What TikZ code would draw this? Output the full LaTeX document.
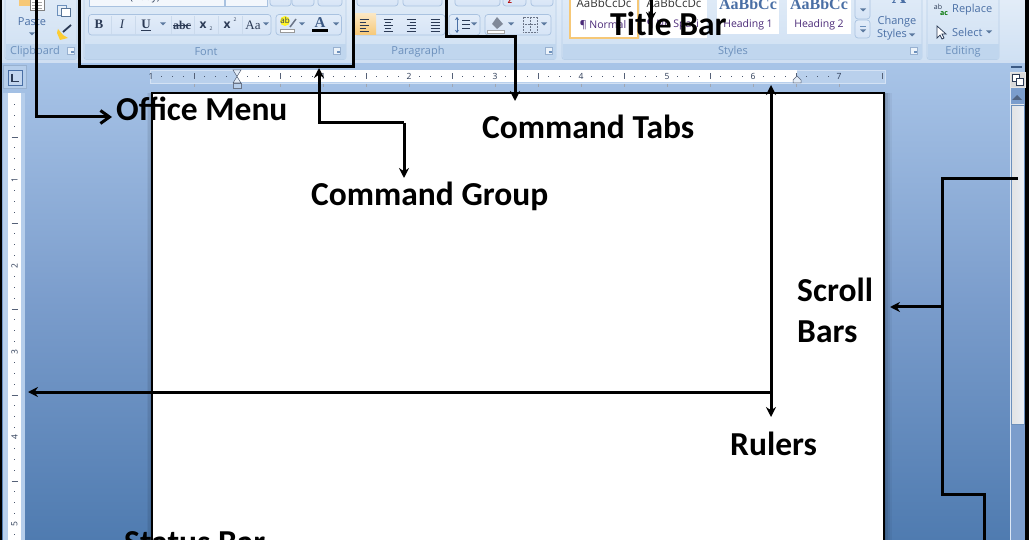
\documentclass[tikz,border=0pt]{standalone}
\usepackage{fontspec}
\setmainfont{Carlito}
\newfontfamily\uifont{Open Sans}
\newfontfamily\serifui{Liberation Serif}
\usetikzlibrary{arrows.meta}
\definecolor{capt}{HTML}{6C90BC}
\definecolor{grp}{HTML}{CFE0F3}
\definecolor{grpedge}{HTML}{B8CFE8}
\definecolor{capband}{HTML}{C0D6EE}
\definecolor{btn}{HTML}{D6E4F6}
\definecolor{btnedge}{HTML}{A9C2E0}
\definecolor{ico}{HTML}{2B3A55}
\definecolor{purp}{HTML}{4B2A78}
\definecolor{hd}{HTML}{4A6FA5}
\definecolor{bgtop}{HTML}{A9C5E8}
\definecolor{bgmid}{HTML}{7B9DCC}
\definecolor{bgbot}{HTML}{4F7BB0}
\definecolor{rulblue}{HTML}{B9D0EC}
\definecolor{selo}{HTML}{F6C877}
\tikzset{
 lbl/.style={font=\fontsize{33.5}{41}\selectfont\bfseries,anchor=base west,inner sep=0pt,text=black,align=left},
 conn/.style={line width=3pt,draw=black,line cap=butt,line join=miter},
 tip/.style={-{Stealth[length=10pt,width=10pt]}},
 caption/.style={font=\uifont\fontsize{11}{12}\selectfont,text=capt,inner sep=0pt},
 dark/.style={font=\uifont\fontsize{10}{12}\selectfont,text=ico,inner sep=0pt},
 rulernum/.style={font=\uifont\fontsize{8.5}{9}\selectfont,text=ico,inner sep=0pt},
 groupbox/.style={draw=grpedge,line width=0.8pt,rounded corners=2.5pt,top color=grp!65!white,bottom color=grp},
 btngroup/.style={draw=btnedge,line width=0.7pt,rounded corners=3pt,top color=btn!70!white,bottom color=btn},
 launch/.style={draw=capt!70,fill=white!70!capband,line width=0.5pt},
 tri/.style={fill=capt!85!black},
}
\newcommand{\drawtri}[2]{\fill[tri] (#1-3,#2-1.5) -- (#1+3,#2-1.5) -- (#1,#2+1.5) -- cycle;}
\newcommand{\launcher}[2]{\draw[launch] (#1-3.5,#2-3.5) rectangle (#1+3.5,#2+3.5);\fill[capt] (#1,#2) rectangle (#1+2.5,#2+2.5);}
\begin{document}
\begin{tikzpicture}[x=1pt,y=-1pt]
\useasboundingbox (0,0) rectangle (1029,540);
\clip (0,0) rectangle (1029,540);
% background
\fill[top color=bgtop,bottom color=bgmid] (0,60) rectangle (1029,300);
\fill[top color=bgmid,bottom color=bgbot] (0,300) rectangle (1029,540);
% ribbon
\fill[top color=grp!60!white,bottom color=grp] (0,0) rectangle (1029,62);
\fill[white!45!bgtop] (0,60) rectangle (1029,63);
\fill[black] (0,0) rectangle (2,540);
\fill[black] (1025,0) rectangle (1029,540);
% groups
\draw[groupbox] (5,-6) rectangle (77,59.5);
\draw[groupbox] (84,-6) rectangle (346,59.5);
\draw[groupbox] (353,-6) rectangle (556,59.5);
\draw[groupbox] (562,-6) rectangle (922,59.5);
\draw[groupbox] (927,-6) rectangle (999,59.5);
\foreach \a/\b in {5.5/76.5,84.5/345.5,353.5/555.5,562.5/921.5,927.5/998.5}
  \fill[capband] (\a,44) rectangle (\b,59);
% clipboard
\fill[selo] (19,-2) rectangle (30,6);
\fill[white] (30,-2) rectangle (44,10); \draw[gray,line width=0.5pt] (30,-2) rectangle (44,10);
\foreach \y in {2,5,8}\draw[gray!70,line width=0.6pt] (32,\y) -- (42,\y);
\node[caption,text=hd] (pasteT) at (32,22) {Paste};
\drawtri{32}{34}
\fill[white!60!capband] (57,5) rectangle (66,15); \draw[capt,line width=0.5pt] (57,5) rectangle (66,15);
\fill[white] (61,8) rectangle (70,16); \draw[capt!80!black,line width=0.5pt] (61,8) rectangle (70,16);
\fill[yellow!55!orange!80!white] (58,29) -- (63,35) -- (68,38) -- (60,40) -- (57,33) -- cycle;
\draw[ico,line width=1.8pt] (63,32) -- (71,25);
\node[caption] (clipT) at (35,52) {Clipboard};
\launcher{71}{51}
% font group
\fill[white!70!btn] (89,-6) rectangle (224,6); \draw[btnedge,line width=0.6pt] (89,-6) rectangle (224,6);
\fill[white!70!btn] (225,-6) rectangle (267,6); \draw[btnedge,line width=0.6pt] (225,-6) rectangle (267,6);
\node[dark,font=\uifont\fontsize{10}{12}\selectfont] (fontNameT) at (145,-2) {(Body)};
\draw[btngroup] (270,-6) rectangle (291,6); \draw[btngroup] (292,-6) rectangle (314,6); \draw[btngroup] (318,-6) rectangle (342,6);
\draw[btngroup] (88.5,14.5) rectangle (271,35);
\draw[btngroup] (276,14.5) rectangle (341.5,35);
\foreach \x in {111,135,171,194,218,242}\draw[btnedge!60,line width=0.4pt] (\x,16) -- (\x,34);
\node[inner sep=0pt,text=ico,font=\serifui\fontsize{13}{13}\selectfont\bfseries] (boldB) at (99,24.5) {B};
\node[inner sep=0pt,text=ico,font=\serifui\fontsize{13}{13}\selectfont\itshape] (italI) at (122,24.5) {I};
\node[inner sep=0pt,text=ico,font=\serifui\fontsize{13}{13}\selectfont\bfseries] (underU) at (146,24) {U};
\draw[ico,line width=1pt] (141,31) -- (151,31);
\drawtri{163}{24}
\node[inner sep=0pt,text=ico,font=\serifui\fontsize{12}{12}\selectfont\bfseries] (strikeT) at (182,25) {abc};
\draw[ico,line width=0.8pt] (173,25.5) -- (191,25.5);
\node[inner sep=0pt,text=ico,font=\uifont\fontsize{12}{12}\selectfont\bfseries] (subX) at (203,25) {x};
\node[inner sep=0pt,text=ico,font=\uifont\fontsize{5}{5}\selectfont] (subTwo) at (211,29) {2};
\node[inner sep=0pt,text=ico,font=\uifont\fontsize{12}{12}\selectfont\bfseries] (supX) at (227,25) {x};
\node[inner sep=0pt,text=ico,font=\uifont\fontsize{5}{5}\selectfont] (supTwo) at (235,20) {2};
\node[inner sep=0pt,text=ico,font=\serifui\fontsize{13}{13}\selectfont] (caseA) at (253,25) {Aa};
\drawtri{266}{24}
\fill[yellow!85!white] (285,21) circle (5);
\node[inner sep=0pt,text=ico,font=\uifont\fontsize{8}{8}\selectfont] (highlightT) at (285,21) {ab};
\draw[gray!80,fill=white,line width=0.5pt] (280,29) rectangle (294,32);
\draw[ico!70,line width=1.5pt] (290,27) -- (296,19);
\drawtri{302}{24}
\node[inner sep=0pt,text=hd!80!black,font=\serifui\fontsize{15}{15}\selectfont\bfseries] (colorA) at (320,22.5) {A};
\fill[black] (312,29) rectangle (328,32.5);
\drawtri{336}{24}
\node[caption] (fontT) at (206,52) {Font};
\launcher{337}{51}
% paragraph group
\foreach \a/\b in {357/398,403/442,455/500,503/526,531/553}
  \draw[btngroup] (\a,-6) rectangle (\b,6);
\node[inner sep=0pt,text=red!70!black,font=\uifont\fontsize{7}{7}\selectfont\bfseries] (sortZ) at (510,1) {Z};
\draw[btngroup] (354,14.5) rectangle (445,35);
\fill[top color=selo!45!white,bottom color=selo] (354,14) rectangle (376,35);
\foreach \cx/\k in {364/0,388/1,411/2,435/3}{
  \foreach \y/\w in {19/4.5,22/3,25/4.5,28/3,31/4.5}{
    \pgfmathsetmacro{\wa}{\k==3?4.5:\w}
    \pgfmathsetmacro{\xa}{\k==0?\cx-4.5:(\k==1?\cx-\wa:(\k==2?\cx+4.5-2*\wa:\cx-4.5))}
    \pgfmathsetmacro{\xb}{\xa+2*\wa}
    \draw[ico,line width=0.9pt] (\xa,\y) -- (\xb,\y);
  }
}
\draw[btngroup] (449,14.5) rectangle (480,35);
\draw[hd,line width=1pt,{Stealth[length=3pt,width=4pt]}-{Stealth[length=3pt,width=4pt]}] (457,17) -- (457,33);
\foreach \y in {21,25,29}\draw[ico,line width=1pt] (462,\y) -- (470,\y);
\drawtri{474}{24}
\draw[btngroup] (485,14.5) rectangle (551,35);
\fill[ico!60] (492,24) -- (497,17) -- (503,24) -- (497,29) -- cycle;
\draw[gray!70,fill=white,line width=0.5pt] (487,30) rectangle (504,33);
\drawtri{511}{24}
\draw[ico!70,line width=0.5pt,densely dotted] (523,17) rectangle (537,32);
\draw[ico!70,line width=0.5pt,densely dotted] (530,17) -- (530,32) (523,24.5) -- (537,24.5);
\drawtri{544}{24}
\node[caption] (paraT) at (418,52) {Paragraph};
\launcher{549}{51}
% styles group
\draw[line width=2pt,draw=selo,fill=white] (570,-6) rectangle (638,38);
\fill[white] (640,-6) rectangle (707,38);
\fill[white] (717,-6) rectangle (779,34);
\fill[white] (787,-6) rectangle (851,34);
\node[inner sep=0pt,text=black!80,font=\uifont\fontsize{11.5}{12}\selectfont] (s1a) at (604,3) {AaBbCcDc};
\node[inner sep=0pt,text=purp,font=\uifont\fontsize{10.5}{12}\selectfont] (s1b) at (603,25) {¶ Normal};
\node[inner sep=0pt,text=black!80,font=\uifont\fontsize{11.5}{12}\selectfont] (s2a) at (674,3) {AaBbCcDc};
\node[inner sep=0pt,text=purp,font=\uifont\fontsize{10.5}{12}\selectfont] (s2b) at (673,25) {¶ No Spaci};
\node[inner sep=0pt,text=hd,font=\serifui\fontsize{16}{16}\selectfont\bfseries] (s3a) at (748,4) {AaBbCc};
\node[inner sep=0pt,text=purp,font=\uifont\fontsize{10.5}{12}\selectfont] (s3b) at (748,25) {Heading 1};
\node[inner sep=0pt,text=hd,font=\serifui\fontsize{16}{16}\selectfont\bfseries] (s4a) at (819,4) {AaBbCc};
\node[inner sep=0pt,text=purp,font=\uifont\fontsize{10.5}{12}\selectfont] (s4b) at (819,25) {Heading 2};
\draw[btngroup] (855,-6) rectangle (870,19);
\draw[btngroup] (855,20) rectangle (870,38);
\drawtri{863}{10}
\drawtri{863}{31}
\draw[capt,line width=0.8pt] (860,26) -- (866,26);
\node[inner sep=0pt,text=hd,font=\serifui\fontsize{20}{20}\selectfont\bfseries] (changeA) at (899,-3) {A};
\node[caption,text=hd] (changeT) at (897,22) {Change};
\node[caption,text=hd] (stylesT) at (892,35) {Styles};
\drawtri{912}{35}
\node[caption] (stylT) at (733,52) {Styles};
\launcher{914}{51}
% editing group
\node[inner sep=0pt,text=ico,font=\uifont\fontsize{7}{7}\selectfont] (absmall) at (938,7) {ab};
\node[inner sep=0pt,text=green!45!black,font=\uifont\fontsize{7}{7}\selectfont\bfseries] (acsmall) at (944,14) {ac};
\node[caption,text=hd,anchor=west] (replaceT) at (952,10) {Replace};
\draw[ico,fill=white,line width=0.7pt] (937,26) -- (937,38) -- (940,35) -- (942,39) -- (944,38) -- (942,34) -- (946,34) -- cycle;
\node[caption,text=hd,anchor=west] (selectT) at (952,32) {Select};
\drawtri{989}{32}
\node[caption] (editT) at (963,52) {Editing};
% ruler corner
\fill[white!15!bgtop,draw=capt!70!white,line width=0.8pt] (3,65.5) rectangle (26,88);
\fill[white!30!bgtop,draw=hd,line width=0.6pt] (8,70) rectangle (22,85);
\draw[ico,line width=1.6pt] (12,74) -- (12,81.5) -- (19,81.5);
% horizontal ruler
\fill[rulblue] (150,70) rectangle (885,83);
\draw[white!50!bgtop,line width=0.5pt] (150,70) rectangle (885,83);
\fill[white] (237,70.5) rectangle (797,82.5);
\foreach \i in {-1,...,6}{
  \foreach \j in {1,2,3,5,6,7}{
    \pgfmathsetmacro{\xd}{237+86*\i+10.75*\j}
    \fill[ico!85] (\xd-0.7,76) rectangle (\xd+0.7,77.4);
  }
}
\foreach \i in {-1,...,7}{
  \pgfmathsetmacro{\xh}{237+86*\i+43}
  \draw[ico!80,line width=0.6pt] (\xh,73.5) -- (\xh,79.5);
}
\foreach \i in {-1,...,6}{
  \pgfmathsetmacro{\xh}{237+86*\i+43}
  \draw[ico!45,line width=0.6pt] (\xh,84) -- (\xh,87);
  \pgfmathsetmacro{\xv}{237+86*\i+86}
  \draw[ico!45,line width=0.6pt] (\xv,84) -- (\xv,87);
}
\foreach \n/\nx in {1/151,1/323,2/409,3/495,4/581,5/667,6/753,7/839}
  \node[rulernum] at (\nx,76.5) {\n};
\draw[ico!80,fill=white!60!rulblue,line width=0.5pt] (233,70) -- (241,70) -- (237,76.5) -- (241,83) -- (233,83) -- (237,76.5) -- cycle;
\draw[ico!70,fill=rulblue,line width=0.5pt] (233,83) rectangle (241,88);
\draw[ico!80,fill=white!60!rulblue,line width=0.5pt] (797,76) -- (801,80) -- (801,83) -- (793,83) -- (793,80) -- cycle;
% vertical ruler
\fill[rulblue] (3,93) rectangle (8,540);
\fill[white] (8,93) rectangle (21,540);
\fill[bgtop!85!white] (21,93) rectangle (25,540);
\foreach \i in {0,...,5}{
  \foreach \j in {1,2,3,5,6,7}{
    \pgfmathsetmacro{\yd}{94+86*\i+10.75*\j}
    \fill[ico!85] (13.7,\yd-0.7) rectangle (15.1,\yd+0.7);
  }
}
\foreach \i in {0,...,5}{
  \pgfmathsetmacro{\yh}{94+86*\i+43}
  \draw[ico!80,line width=0.6pt] (11.5,\yh) -- (17.5,\yh);
}
\foreach \n/\ny in {1/180,2/266,3/352,4/437.5,5/524}
  \node[rulernum,rotate=90] at (14.5,\ny) {\n};
% page shadow and page
\foreach \o/\s in {8/6,6/8,4/10,2/12}
  \fill[black,opacity=0.055*\s/8] (152-\o*0.6,93) rectangle (884+\o,540);
\fill[white] (152,93) rectangle (884,545);
\draw[black,line width=1.2pt] (152,545) -- (152,93) -- (884,93) -- (884,545);
% scroll bar
\fill[hd!80!black] (1011,66.5) rectangle (1022,68);
\fill[white!70!gray,draw=white!80!gray,line width=0.5pt] (1010,72) rectangle (1025,87);
\draw[ico,fill=white,line width=0.5pt] (1012,74) rectangle (1019,81);
\draw[ico,fill=white,line width=0.5pt] (1016,78) rectangle (1023,85);
\fill[bgmid] (1010,88) rectangle (1025,540);
\draw[white!60!bgtop,line width=0.7pt] (1010,88) -- (1010,540);
\fill[ico!70!bgtop] (1012,100) -- (1017,95) -- (1022,100) -- cycle;
\shade[left color=white!78!gray,right color=white!85!capt,draw=capt,line width=0.5pt] (1011,105) rectangle (1024,424);
% labels
\node[lbl] (officeMenu) at (116,121) {Office Menu};
\node[lbl] (commandTabs) at (482,139) {Command Tabs};
\node[lbl] (commandGroup) at (311,206) {Command Group};
\node[lbl] (titleBar) at (610,36) {Title Bar};
\node[lbl] (scrollBars) at (797,342) {Scroll\\Bars};
\node[lbl] (rulersT) at (730,455) {Rulers};
\node[lbl] (statusBar) at (124,553) {Status Bar};
% connectors
\node[draw=black,line width=3pt,inner sep=0pt,minimum width=274pt,minimum height=90pt] (fontBox) at (216,22) {};
\coordinate (omStart) at (36,-5);
\coordinate (omEnd) at (112,117);
\draw[conn,-{Straight Barb[length=9pt,width=13pt]}] (omStart) |- (omEnd);
\coordinate (cgTop) at (319,68);
\coordinate (cgEnd) at (404,178);
\draw[conn,tip] (cgEnd |- 0,123) -- (cgEnd);
\draw[conn,tip] (cgEnd |- 0,123) -| (cgTop);
\coordinate (ctStart) at (446,-5);
\coordinate (ctEnd) at (515,101);
\draw[conn,tip] (ctStart) |- (480,37) -| (ctEnd);
\coordinate (tbStart) at (651,-5);
\coordinate (tbEnd) at (651,22);
\draw[conn,tip] (tbStart) -- (tbEnd);
\coordinate (rulTop) at (771,85);
\coordinate (rulBot) at (771,417);
\coordinate (rulLeft) at (28,392);
\draw[conn,tip] (771,250) -- (rulTop);
\draw[conn,tip] (771,250) -- (rulBot);
\draw[conn,tip] (771,392) -- (rulLeft);
\coordinate (sbTop) at (1018,179);
\coordinate (sbMid) at (942,307);
\coordinate (sbTip) at (890,307);
\coordinate (sbBot) at (984,545);
\draw[conn] (sbTop) -| (sbMid |- 0,494) -| (sbBot);
\draw[conn,tip] (sbMid) -- (sbTip);
\end{tikzpicture}
\end{document}
